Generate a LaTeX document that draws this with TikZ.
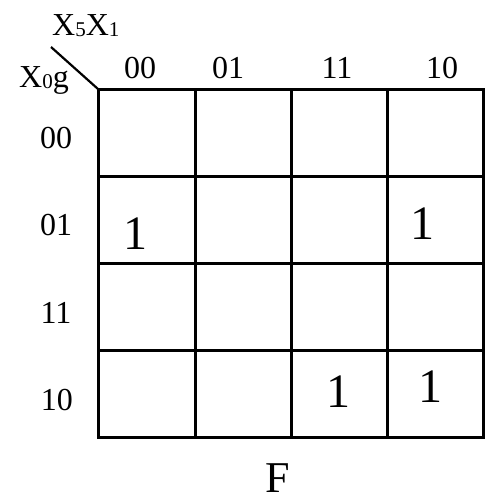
\documentclass[tikz,border=0pt]{standalone}
\usepackage{fontspec}
\setmainfont{Liberation Serif}
\begin{document}
\begin{tikzpicture}[x=1pt,y=-1pt,
  gridline/.style={line width=3pt, line cap=rect},
  lab/.style={font=\fontsize{32}{32}\selectfont, inner sep=0pt, anchor=base},
  one/.style={font=\fontsize{48}{48}\selectfont, inner sep=0pt, anchor=base}]
\useasboundingbox (0,0) rectangle (500,504);
% grid
\coordinate (tl) at (98,89);
\coordinate (br) at (483,437);
\draw[gridline] (tl) rectangle (br);
\foreach \x in {195,291,387} \draw[gridline] (\x,89) -- (\x,437);
\foreach \y in {176,263,350} \draw[gridline] (98,\y) -- (483,\y);
% diagonal
\coordinate (dg) at (51,47);
\draw[line width=2.2pt] (dg) -- (tl);
% corner labels
\node[lab, anchor=base west] (vc) at (52,35) {X\raisebox{-1pt}{\fontsize{21}{21}\selectfont 5}X\raisebox{-1pt}{\fontsize{21}{21}\selectfont 1}};
\node[lab, anchor=base west] (vr) at (19,87) {X\raisebox{-1pt}{\fontsize{21}{21}\selectfont 0}g};
% column labels
\node[lab] (c0) at (140,78) {00};
\node[lab] (c1) at (228,78) {01};
\node[lab] (c2) at (337,78) {11};
\node[lab] (c3) at (442,78) {10};
% row labels
\node[lab] (r0) at (56,148) {00};
\node[lab] (r1) at (56,235) {01};
\node[lab] (r2) at (56,323) {11};
\node[lab] (r3) at (57,410) {10};
% ones
\node[one] (m1a) at (135,249) {1};
\node[one] (m1b) at (422,239) {1};
\node[one] (m3a) at (338,407) {1};
\node[one] (m3b) at (430,402) {1};
% title
\node[font=\fontsize{44}{44}\selectfont, inner sep=0pt, anchor=base] (F) at (278,492) {F};
\end{tikzpicture}
\end{document}
